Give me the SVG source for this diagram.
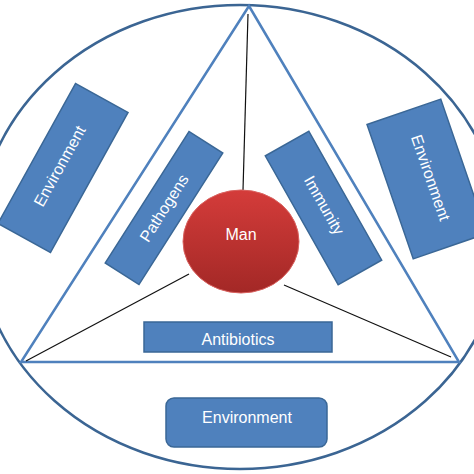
<svg xmlns="http://www.w3.org/2000/svg" width="474" height="474" viewBox="0 0 474 474">
<defs>
<linearGradient id="red" x1="0" y1="0" x2="0" y2="1">
<stop offset="0" stop-color="#d43c3a"/>
<stop offset="1" stop-color="#a32826"/>
</linearGradient>
<style>
.box{fill:#4f81bd;stroke:#3a6796;stroke-width:1.5}
.t{fill:#ffffff;font-family:"Liberation Sans",Arial,sans-serif;font-size:16px;text-anchor:middle}
.outer{fill:none;stroke:#3b6593;stroke-width:2.5}
.tri{fill:none;stroke:#4f81bd;stroke-width:2.5;stroke-linejoin:miter}
.ln{stroke:#111111;stroke-width:1.2;fill:none}
</style>
</defs>
<rect width="474" height="474" fill="#ffffff"/>
<g id="frame">
<ellipse class="outer" cx="240" cy="237" rx="262" ry="232"/>
<polygon class="tri" points="249,6 21,362 459,362"/>
</g>
<g id="connectors">
<line class="ln" x1="248" y1="14" x2="243" y2="190"/>
<line class="ln" x1="189" y1="274" x2="26" y2="361"/>
<line class="ln" x1="284" y1="285" x2="451" y2="357"/>
</g>
<g id="env-left" transform="translate(63,168) rotate(-61)">
<rect class="box" x="-80" y="-30" width="160" height="60"/>
<text class="t" x="0" y="-4" dy="0.35em">Environment</text>
</g>
<g id="pathogens" transform="translate(164,208) rotate(-57.5)">
<rect class="box" x="-78" y="-20" width="156" height="40"/>
<text class="t" x="0" y="0" dy="0.35em">Pathogens</text>
</g>
<g id="immunity" transform="translate(323.5,208) rotate(60.5)">
<rect class="box" x="-74" y="-25" width="148" height="50"/>
<text class="t" x="-2" y="-2" dy="0.35em">Immunity</text>
</g>
<g id="env-right" transform="translate(427,179) rotate(71)">
<rect class="box" x="-71" y="-39" width="142" height="78"/>
<text class="t" x="0" y="-4" dy="0.35em">Environment</text>
</g>
<g id="man">
<ellipse cx="241" cy="241.5" rx="58" ry="51.5" fill="url(#red)" stroke="#d9625f" stroke-width="1"/>
<text class="t" x="241" y="234" dy="0.35em">Man</text>
</g>
<g id="antibiotics">
<rect class="box" x="144" y="322" width="188" height="30"/>
<text class="t" x="238" y="339" dy="0.35em">Antibiotics</text>
</g>
<g id="env-bottom">
<rect class="box" x="166" y="398" width="161" height="49" rx="8" ry="8"/>
<text class="t" x="247" y="417" dy="0.35em">Environment</text>
</g>
</svg>
